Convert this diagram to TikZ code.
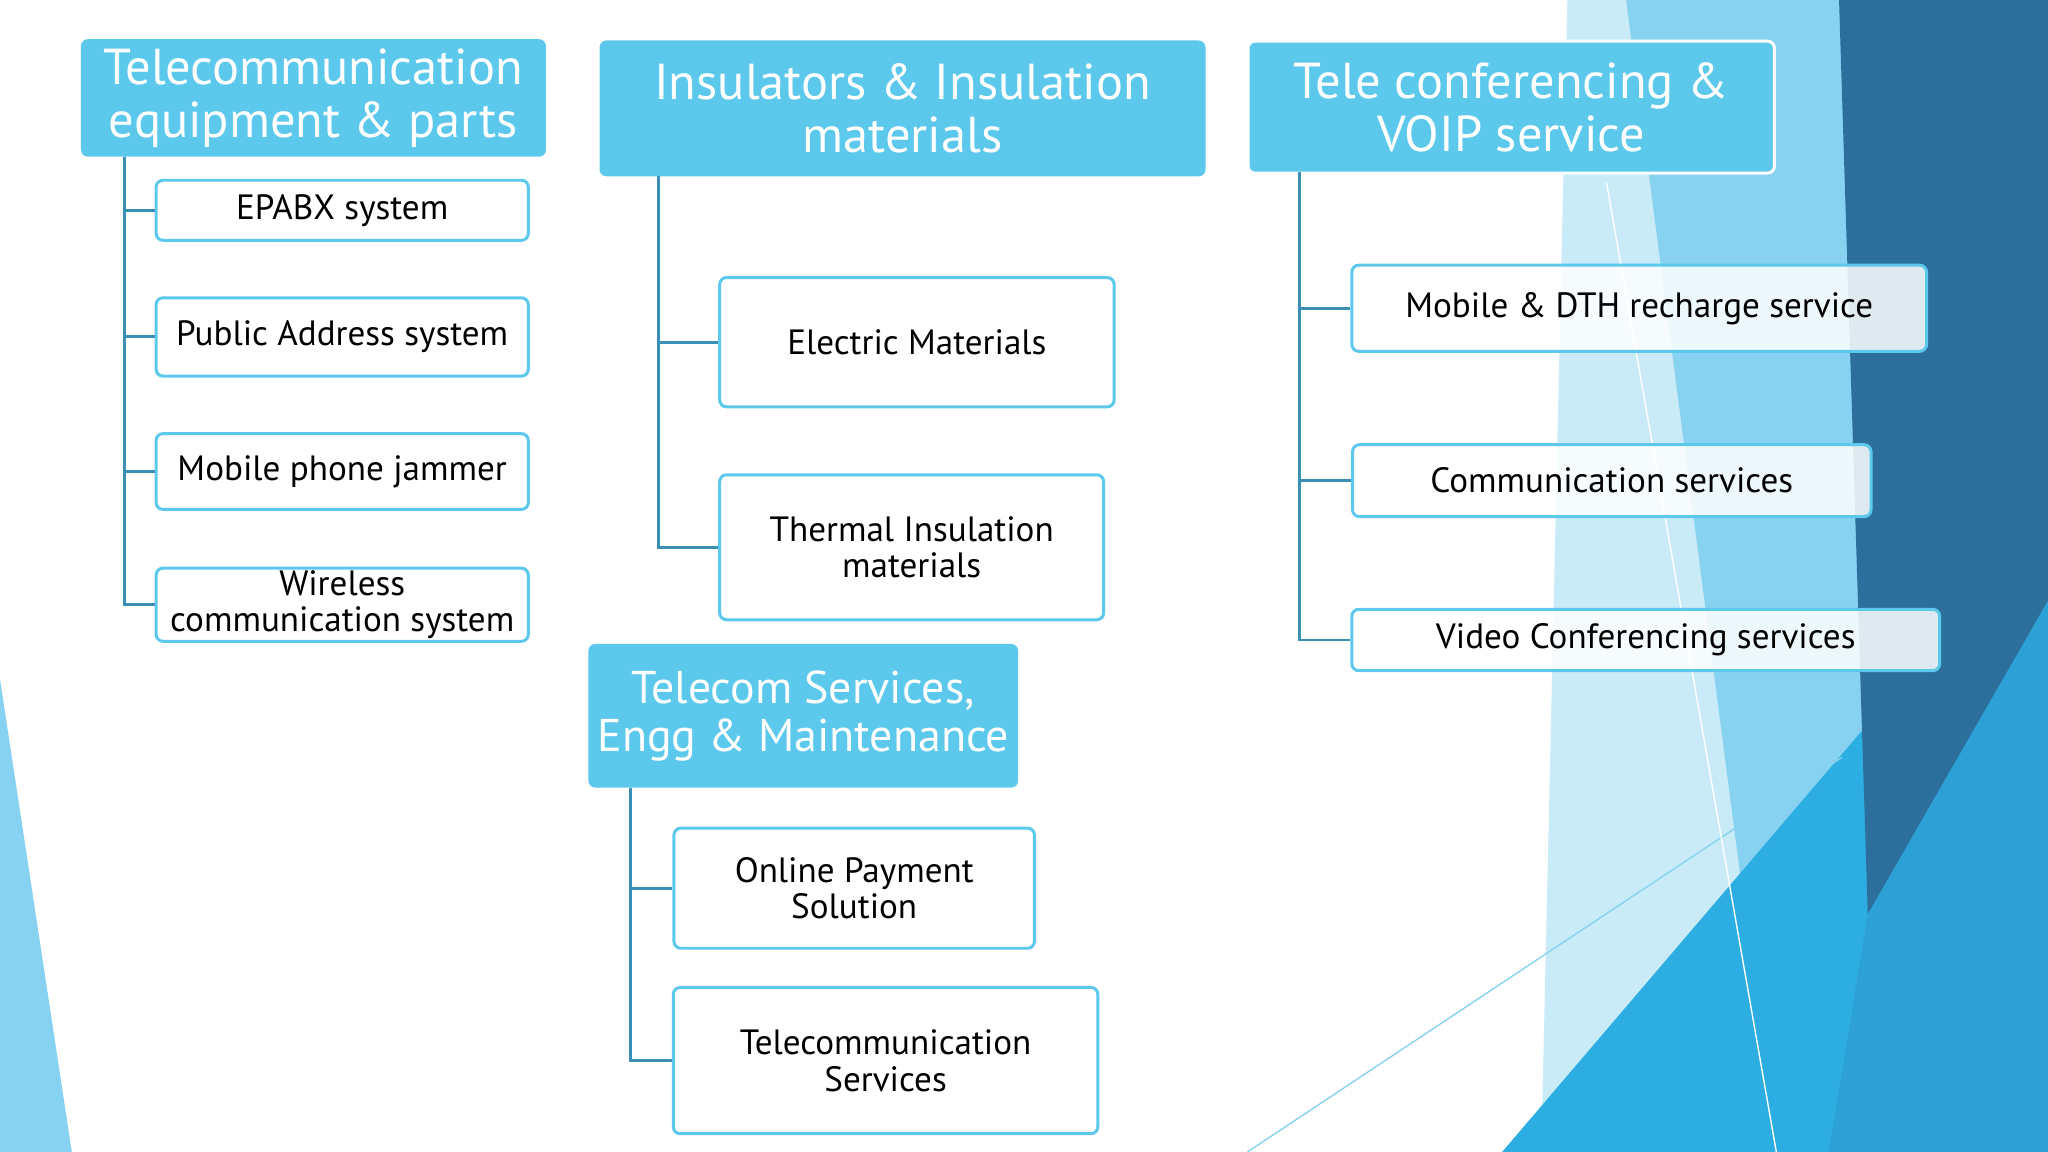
\documentclass[tikz,border=0pt]{standalone}
\usepackage{fontspec}
\setmainfont{PT Sans}
\definecolor{hdblue}{HTML}{5BC8EC}
\definecolor{lnblue}{HTML}{3A8FB7}
\definecolor{bgpale}{HTML}{C9EBF8}
\definecolor{bglight}{HTML}{86D2F0}
\definecolor{bgmid}{HTML}{2DAEE3}
\definecolor{bgdark}{HTML}{2C6E9C}
\newlength\pu
\setlength\pu{0.02cm}
\tikzset{
  head/.style={fill=hdblue,rounded corners=3pt,text=white,align=center,inner sep=0pt,
    font=\fontsize{22}{23}\selectfont},
  item/.style={draw=hdblue,line width=1.3pt,fill=white,fill opacity=.85,text opacity=1,
    rounded corners=3pt,align=center,inner sep=0pt,font=\fontsize{15.3}{16}\selectfont},
  link/.style={draw=lnblue,line width=1.3pt}
}
\begin{document}
\begin{tikzpicture}[x=0.02cm,y=-0.02cm]
\useasboundingbox (0,0) rectangle (1568,882);
% background
\fill[bgpale] (1200,0) -- (1568,0) -- (1568,882) -- (1180,882) -- cycle;
\fill[bglight] (1245,0) -- (1568,0) -- (1568,882) -- (1360,882) -- cycle;
\fill[bgmid] (1150,882) -- (1455,525) -- (1568,400) -- (1568,882) -- cycle;
\fill[bgdark] (1408,0) -- (1568,0) -- (1568,460) -- (1430,700) -- cycle;
\fill[bgmid!80!bgdark] (1430,700) -- (1568,460) -- (1568,882) -- (1400,882) -- cycle;
\fill[bglight] (0,520) -- (55,882) -- (0,882) -- cycle;
\draw[bglight,line width=.6pt] (955,882) -- (1410,580);
\draw[white,line width=.6pt] (1230,140) -- (1360,882);

\begin{scope}
  \node[head,minimum width=356\pu,minimum height=90\pu] (TEL) at (240,75) {Telecommunication\\equipment \& parts};
  \node[item,minimum width=285\pu,minimum height=46\pu] (EPA) at (262,161) {EPABX system};
  \node[item,minimum width=285\pu,minimum height=60\pu] (PAS) at (262,258) {Public Address system};
  \node[item,minimum width=285\pu,minimum height=58\pu] (MPJ) at (262,361) {Mobile phone jammer};
  \node[item,minimum width=285\pu,minimum height=56\pu] (WCS) at (262,463) {Wireless\\communication system};
  \coordinate (T1) at (95,120);
  \draw[link] (T1) |- (EPA.west);
  \draw[link] (T1) |- (PAS.west);
  \draw[link] (T1) |- (MPJ.west);
  \draw[link] (T1) |- (WCS.west);
\end{scope}

\begin{scope}
  \node[head,minimum width=464\pu,minimum height=104\pu] (INS) at (691,83) {Insulators \& Insulation\\materials};
  \node[item,minimum width=302\pu,minimum height=99\pu] (ELM) at (702,262) {Electric Materials};
  \node[item,minimum width=294\pu,minimum height=111\pu] (THM) at (698,419) {Thermal Insulation\\materials};
  \coordinate (T2) at (504,135);
  \draw[link] (T2) |- (ELM.west);
  \draw[link] (T2) |- (THM.west);
\end{scope}

\begin{scope}
  \node[head,draw=white,line width=1.3pt,minimum width=403\pu,minimum height=101\pu] (TVS) at (1157,82) {Tele conferencing \&\\VOIP service};
  \node[item,minimum width=440\pu,minimum height=66\pu] (MDR) at (1255,236) {Mobile \& DTH recharge service};
  \node[item,minimum width=397\pu,minimum height=55\pu] (COM) at (1234,368) {Communication services};
  \node[item,minimum width=450\pu,minimum height=47\pu] (VCS) at (1260,490) {Video Conferencing services};
  \coordinate (T3) at (995,132);
  \draw[link] (T3) |- (MDR.west);
  \draw[link] (T3) |- (COM.west);
  \draw[link] (T3) |- (VCS.west);
\end{scope}

\begin{scope}
  \node[head,font=\fontsize{20}{21}\selectfont,minimum width=329\pu,minimum height=110\pu] (TSM) at (615,548) {Telecom Services,\\Engg \& Maintenance};
  \node[item,minimum width=276\pu,minimum height=92\pu] (OPS) at (654,680) {Online Payment\\Solution};
  \node[item,minimum width=325\pu,minimum height=112\pu] (TCS) at (678,812) {Telecommunication\\Services};
  \coordinate (T4) at (483,603);
  \draw[link] (T4) |- (OPS.west);
  \draw[link] (T4) |- (TCS.west);
\end{scope}
\end{tikzpicture}
\end{document}
